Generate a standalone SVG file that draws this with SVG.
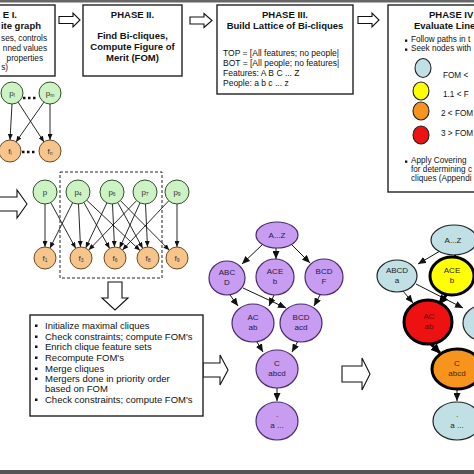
<svg xmlns="http://www.w3.org/2000/svg" width="474" height="474" viewBox="0 0 474 474">
<defs>
<style>
text{font-family:"Liberation Sans",Arial,sans-serif;fill:#111}
.b{font-weight:bold;font-size:9.5px}
.n{font-size:8.5px}
.s{font-size:8.2px}
.l{font-size:9.5px}
.box{fill:#fff;stroke:#222;stroke-width:1.4}
.ha{fill:#fff;stroke:#111;stroke-width:1.1}
.e{stroke:#111;stroke-width:0.9;fill:none;marker-end:url(#sa)}
.le{stroke:#111;stroke-width:1;fill:none;marker-end:url(#ma)}
.te{stroke:#000;stroke-width:3;fill:none;marker-end:url(#ta)}
.pg{fill:#cdf3c4;stroke:#2f4f2a;stroke-width:1}
.fo{fill:#f7c48c;stroke:#6b4a22;stroke-width:1}
.pu{fill:#c79cf1;stroke:#4a2a6a;stroke-width:1.2}
.lb{fill:#c0e0e6;stroke:#222;stroke-width:1.2}
.nt{font-size:8px;text-anchor:middle;fill:#2a1840}
.rt{font-size:8px;text-anchor:middle;fill:#222}
.gt{font-size:8px;text-anchor:middle;fill:#333}
.sub{font-size:5px}
</style>
<marker id="sa" markerUnits="userSpaceOnUse" markerWidth="6" markerHeight="5" refX="6" refY="2.5" orient="auto"><path d="M0,0 L6,2.5 L0,5 z" fill="#111"/></marker>
<marker id="ma" markerUnits="userSpaceOnUse" markerWidth="8" markerHeight="7" refX="8" refY="3.5" orient="auto"><path d="M0,0 L8,3.5 L0,7 z" fill="#111"/></marker>
<marker id="ta" markerUnits="userSpaceOnUse" markerWidth="10" markerHeight="9" refX="9" refY="4.5" orient="auto"><path d="M0,0 L10,4.5 L0,9 z" fill="#000"/></marker>
</defs>
<rect width="474" height="474" fill="#fff"/>
<rect x="0" y="0" width="474" height="2.5" fill="#666"/>
<rect x="0" y="470" width="474" height="4" fill="#555"/>

<g id="phase1">
<rect class="box" x="-5" y="5" width="60" height="71"/>
<text class="b" x="17" y="18" text-anchor="end">E I.</text>
<text class="b" x="41" y="28.5" text-anchor="end">ite graph</text>
<text class="s" x="47" y="41" text-anchor="end">ses, controls</text>
<text class="s" x="47" y="51" text-anchor="end">nned values</text>
<text class="s" x="43" y="61" text-anchor="end">properties</text>
<text class="s" x="8" y="70" text-anchor="end">s)</text>
</g>
<g id="phase2">
<rect class="box" x="83" y="5" width="99" height="71"/>
<text class="b" x="132.5" y="18" text-anchor="middle">PHASE II.</text>
<text class="b" x="132.5" y="38.5" text-anchor="middle">Find Bi-cliques,</text>
<text class="b" x="132.5" y="49.5" text-anchor="middle">Compute Figure of</text>
<text class="b" x="132.5" y="60.5" text-anchor="middle">Merit (FOM)</text>
</g>
<g id="phase3">
<rect class="box" x="217" y="5" width="136" height="89"/>
<text class="b" x="285" y="18" text-anchor="middle">PHASE III.</text>
<text class="b" x="285" y="28.5" text-anchor="middle">Build Lattice of Bi-cliques</text>
<text class="n" x="223" y="56">TOP = [All features; no people|</text>
<text class="n" x="223" y="66">BOT = [All people; no features|</text>
<text class="n" x="223" y="75.5">Features: A B C ... Z</text>
<text class="n" x="223" y="85.5">People: a b c ... z</text>
</g>
<g id="phase4">
<rect class="box" x="388" y="5" width="100" height="187"/>
<text class="b" x="429" y="18">PHASE IV</text>
<text class="b" x="414" y="28.5">Evaluate Line</text>
<rect x="405" y="39.5" width="2.3" height="2.3" fill="#111"/>
<text class="s" x="411" y="42">Follow paths in t</text>
<rect x="405" y="48.5" width="2.3" height="2.3" fill="#111"/>
<text class="s" x="411" y="51">Seek nodes with</text>
<ellipse cx="423" cy="68" rx="8" ry="9.5" fill="#c0e0e6" stroke="#222" stroke-width="1.1"/>
<ellipse cx="421" cy="91" rx="8" ry="9" fill="#ffff00" stroke="#222" stroke-width="1.1"/>
<ellipse cx="421" cy="111" rx="8" ry="9" fill="#f7941d" stroke="#222" stroke-width="1.1"/>
<ellipse cx="421" cy="135" rx="8" ry="9" fill="#ee1111" stroke="#222" stroke-width="1.1"/>
<text class="s" x="443" y="78">FOM &lt;</text>
<text class="s" x="443" y="97">1.1 &lt; F</text>
<text class="s" x="441" y="116">2 &lt; FOM</text>
<text class="s" x="441" y="136">3 &gt; FOM</text>
<rect x="405" y="160.5" width="2.3" height="2.3" fill="#111"/>
<text class="s" x="411" y="163">Apply Covering</text>
<text class="s" x="411" y="172">for determining c</text>
<text class="s" x="411" y="181">cliques (Appendi</text>
</g>

<g id="arrows">
<path class="ha" d="M59,16.5 L73,16.5 L73,13 L80,20 L73,27 L73,23.5 L59,23.5 Z"/>
<path class="ha" d="M190,17 L204,17 L204,13.5 L212,20.5 L204,27.5 L204,24 L190,24 Z"/>
<path class="ha" d="M358,16.5 L372,16.5 L372,13 L379,20 L372,27 L372,23.5 L358,23.5 Z"/>
<path class="ha" d="M-2,197 L17,197 L17,190 L27,204 L17,218 L17,211 L-2,211 Z"/>
<path class="ha" d="M108,282 L122,282 L122,298 L128,298 L115,310 L102,298 L108,298 Z"/>
<path class="ha" d="M203,363 L220,363 L220,355 L228,370 L220,385 L220,377 L203,377 Z"/>
<path class="ha" d="M342,366 L362,366 L362,358 L370,374 L362,390 L362,382 L342,382 Z"/>
</g>

<g id="connectors">
<line class="e" x1="12" y1="104" x2="10" y2="140"/>
<line class="e" x1="18" y1="102" x2="44" y2="142"/>
<line class="e" x1="44" y1="102" x2="16" y2="142"/>
<line class="e" x1="50" y1="104" x2="50" y2="140"/>
<line class="e" x1="45" y1="204" x2="45" y2="247"/>
<line class="e" x1="50.7" y1="202.5" x2="75.7" y2="248.3"/>
<line class="e" x1="72.6" y1="202.7" x2="49.9" y2="248.2"/>
<line class="e" x1="78.5" y1="204" x2="80.5" y2="247"/>
<line class="e" x1="83.9" y1="202.5" x2="109.6" y2="248.4"/>
<line class="e" x1="86.7" y1="200.2" x2="140" y2="250.5"/>
<line class="e" x1="106.9" y1="202.9" x2="85.7" y2="248"/>
<line class="e" x1="112.5" y1="204" x2="114.5" y2="247"/>
<line class="e" x1="117.7" y1="202.5" x2="142.7" y2="248.3"/>
<line class="e" x1="120.4" y1="200.6" x2="169.3" y2="250.2"/>
<line class="e" x1="136.6" y1="200.6" x2="88.7" y2="250.1"/>
<line class="e" x1="140" y1="202.9" x2="119.6" y2="248"/>
<line class="e" x1="145.5" y1="204" x2="147.5" y2="247"/>
<line class="e" x1="168.8" y1="200.7" x2="122.5" y2="250"/>
<line class="e" x1="177" y1="204" x2="177" y2="247"/>
<line class="le" x1="262" y1="245" x2="242" y2="264"/>
<line class="le" x1="276" y1="248" x2="276" y2="259"/>
<line class="le" x1="292" y1="245" x2="310" y2="263"/>
<line class="le" x1="230" y1="295" x2="238" y2="306"/>
<line class="le" x1="243" y1="288" x2="286" y2="308"/>
<line class="le" x1="274" y1="295" x2="269" y2="306"/>
<line class="le" x1="320" y1="295" x2="314" y2="306"/>
<line class="le" x1="257" y1="342" x2="263" y2="352"/>
<line class="le" x1="298" y1="341" x2="292" y2="352"/>
<line class="le" x1="277" y1="387" x2="277" y2="401"/>
<line class="le" x1="440" y1="251" x2="418" y2="264"/>
<line stroke="#000" stroke-width="2" x1="455" y1="254" x2="455" y2="258"/>
<line class="le" x1="403" y1="291" x2="413" y2="303"/>
<line class="le" x1="416" y1="284" x2="463" y2="308"/>
<line class="te" x1="447" y1="294" x2="439" y2="304"/>
<line class="te" x1="431" y1="344" x2="440" y2="353"/>
<line class="le" x1="457" y1="389" x2="457" y2="401"/>
</g>

<g id="graph1">
<circle class="pg" cx="12" cy="93" r="11"/><text class="gt" x="12" y="96">p<tspan class="sub" dy="1">l</tspan></text>
<circle class="pg" cx="50" cy="93" r="11"/><text class="gt" x="50" y="96">p<tspan class="sub" dy="1">m</tspan></text>
<line x1="23" y1="98" x2="37" y2="98" stroke="#111" stroke-width="2.5" stroke-dasharray="2.5,2.5"/>
<circle class="fo" cx="10" cy="151" r="11"/><text class="gt" x="10" y="154">f<tspan class="sub" dy="1">l</tspan></text>
<circle class="fo" cx="50" cy="151" r="11"/><text class="gt" x="50" y="154">f<tspan class="sub" dy="1">n</tspan></text>
<line x1="22" y1="152" x2="37" y2="152" stroke="#111" stroke-width="2.5" stroke-dasharray="2.5,2.5"/>
</g>

<g id="graph2">
<rect x="60" y="172" width="102" height="106" fill="none" stroke="#222" stroke-width="1" stroke-dasharray="3,2"/>
<circle class="pg" cx="45" cy="192" r="12"/><text class="gt" x="45" y="195">p</text>
<circle class="pg" cx="78" cy="192" r="12"/><text class="gt" x="78" y="195">p<tspan class="sub" dy="1">4</tspan></text>
<circle class="pg" cx="112" cy="192" r="12"/><text class="gt" x="112" y="195">p<tspan class="sub" dy="1">6</tspan></text>
<circle class="pg" cx="145" cy="192" r="12"/><text class="gt" x="145" y="195">p<tspan class="sub" dy="1">7</tspan></text>
<circle class="pg" cx="177" cy="192" r="12"/><text class="gt" x="177" y="195">p<tspan class="sub" dy="1">9</tspan></text>
<circle class="fo" cx="45" cy="258" r="11"/><text class="gt" x="45" y="261">f<tspan class="sub" dy="1">1</tspan></text>
<circle class="fo" cx="81" cy="258" r="11"/><text class="gt" x="81" y="261">f<tspan class="sub" dy="1">3</tspan></text>
<circle class="fo" cx="115" cy="258" r="11"/><text class="gt" x="115" y="261">f<tspan class="sub" dy="1">6</tspan></text>
<circle class="fo" cx="148" cy="258" r="11"/><text class="gt" x="148" y="261">f<tspan class="sub" dy="1">8</tspan></text>
<circle class="fo" cx="177" cy="258" r="11"/><text class="gt" x="177" y="261">f<tspan class="sub" dy="1">9</tspan></text>
</g>

<g id="steps">
<rect class="box" x="30" y="315" width="173" height="101" stroke-width="1.2"/>
<g fill="#111">
<rect x="35" y="324.5" width="2.5" height="2.5"/>
<rect x="35" y="335.5" width="2.5" height="2.5"/>
<rect x="35" y="345.5" width="2.5" height="2.5"/>
<rect x="35" y="356.5" width="2.5" height="2.5"/>
<rect x="35" y="367.5" width="2.5" height="2.5"/>
<rect x="35" y="377.5" width="2.5" height="2.5"/>
<rect x="35" y="398.5" width="2.5" height="2.5"/>
</g>
<text class="l" x="45" y="328.5">Initialize maximal cliques</text>
<text class="l" x="45" y="339.5">Check constraints; compute FOM's</text>
<text class="l" x="45" y="349.5">Enrich clique feature sets</text>
<text class="l" x="45" y="360.5">Recompute FOM's</text>
<text class="l" x="45" y="371.5">Merge cliques</text>
<text class="l" x="45" y="381.5">Mergers done in priority order</text>
<text class="l" x="45" y="391.5">based on FOM</text>
<text class="l" x="45" y="402.5">Check constraints; compute FOM's</text>
</g>

<g id="lattice1">
<g id="n-AZ"><ellipse class="pu" cx="277" cy="235" rx="21" ry="13"/><text class="nt" x="277" y="238">A...Z</text></g>
<g id="n-ABCD"><ellipse class="pu" cx="227" cy="278" rx="18" ry="17"/><text class="nt" x="227" y="275">ABC</text><text class="nt" x="227" y="285">D</text></g>
<g id="n-ACE"><ellipse class="pu" cx="275" cy="277" rx="19" ry="18"/><text class="nt" x="275" y="274">ACE</text><text class="nt" x="275" y="284">b</text></g>
<g id="n-BCDF"><ellipse class="pu" cx="324" cy="277" rx="19" ry="18"/><text class="nt" x="324" y="274">BCD</text><text class="nt" x="324" y="284">F</text></g>
<g id="n-AC"><ellipse class="pu" cx="253" cy="323" rx="21" ry="19"/><text class="nt" x="253" y="320">AC</text><text class="nt" x="253" y="330">ab</text></g>
<g id="n-BCD"><ellipse class="pu" cx="301" cy="323" rx="21" ry="19"/><text class="nt" x="301" y="320">BCD</text><text class="nt" x="301" y="330">acd</text></g>
<g id="n-C"><ellipse class="pu" cx="277" cy="369" rx="21" ry="19"/><text class="nt" x="277" y="366">C</text><text class="nt" x="277" y="376">abcd</text></g>
<g id="n-a"><ellipse class="pu" cx="277" cy="421" rx="21" ry="19"/><text class="nt" x="277" y="417">.</text><text class="nt" x="277" y="428">a ...</text></g>
</g>

<g id="lattice2">
<g id="m-AZ"><ellipse class="lb" cx="454" cy="240" rx="23" ry="15"/><text class="rt" x="453" y="243">A...Z</text></g>
<g id="m-ABCD"><ellipse class="lb" cx="397" cy="276" rx="20" ry="16"/><text class="rt" x="397" y="273">ABCD</text><text class="rt" x="397" y="283">a</text></g>
<g id="m-ACE"><ellipse cx="452" cy="276" rx="22" ry="19" fill="#ffff00" stroke="#000" stroke-width="3"/><text class="rt" x="452" y="273">ACE</text><text class="rt" x="452" y="283">b</text></g>
<g id="m-BCD"><ellipse class="lb" cx="484" cy="323" rx="21" ry="18"/></g>
<g id="m-AC"><ellipse cx="428" cy="322" rx="24" ry="22" fill="#ee1111" stroke="#000" stroke-width="3"/><text class="rt" x="429" y="319" style="fill:#7a0000">AC</text><text class="rt" x="429" y="329" style="fill:#7a0000">ab</text></g>
<g id="m-C"><ellipse cx="457" cy="369" rx="25" ry="20" fill="#f7941d" stroke="#000" stroke-width="3"/><text class="rt" x="457" y="366" style="fill:#4a2a00">C</text><text class="rt" x="457" y="376" style="fill:#4a2a00">abcd</text></g>
<g id="m-a"><ellipse class="lb" cx="457" cy="421" rx="24" ry="19"/><text class="rt" x="457" y="417">.</text><text class="rt" x="457" y="428">a ...</text></g>
</g>
</svg>
